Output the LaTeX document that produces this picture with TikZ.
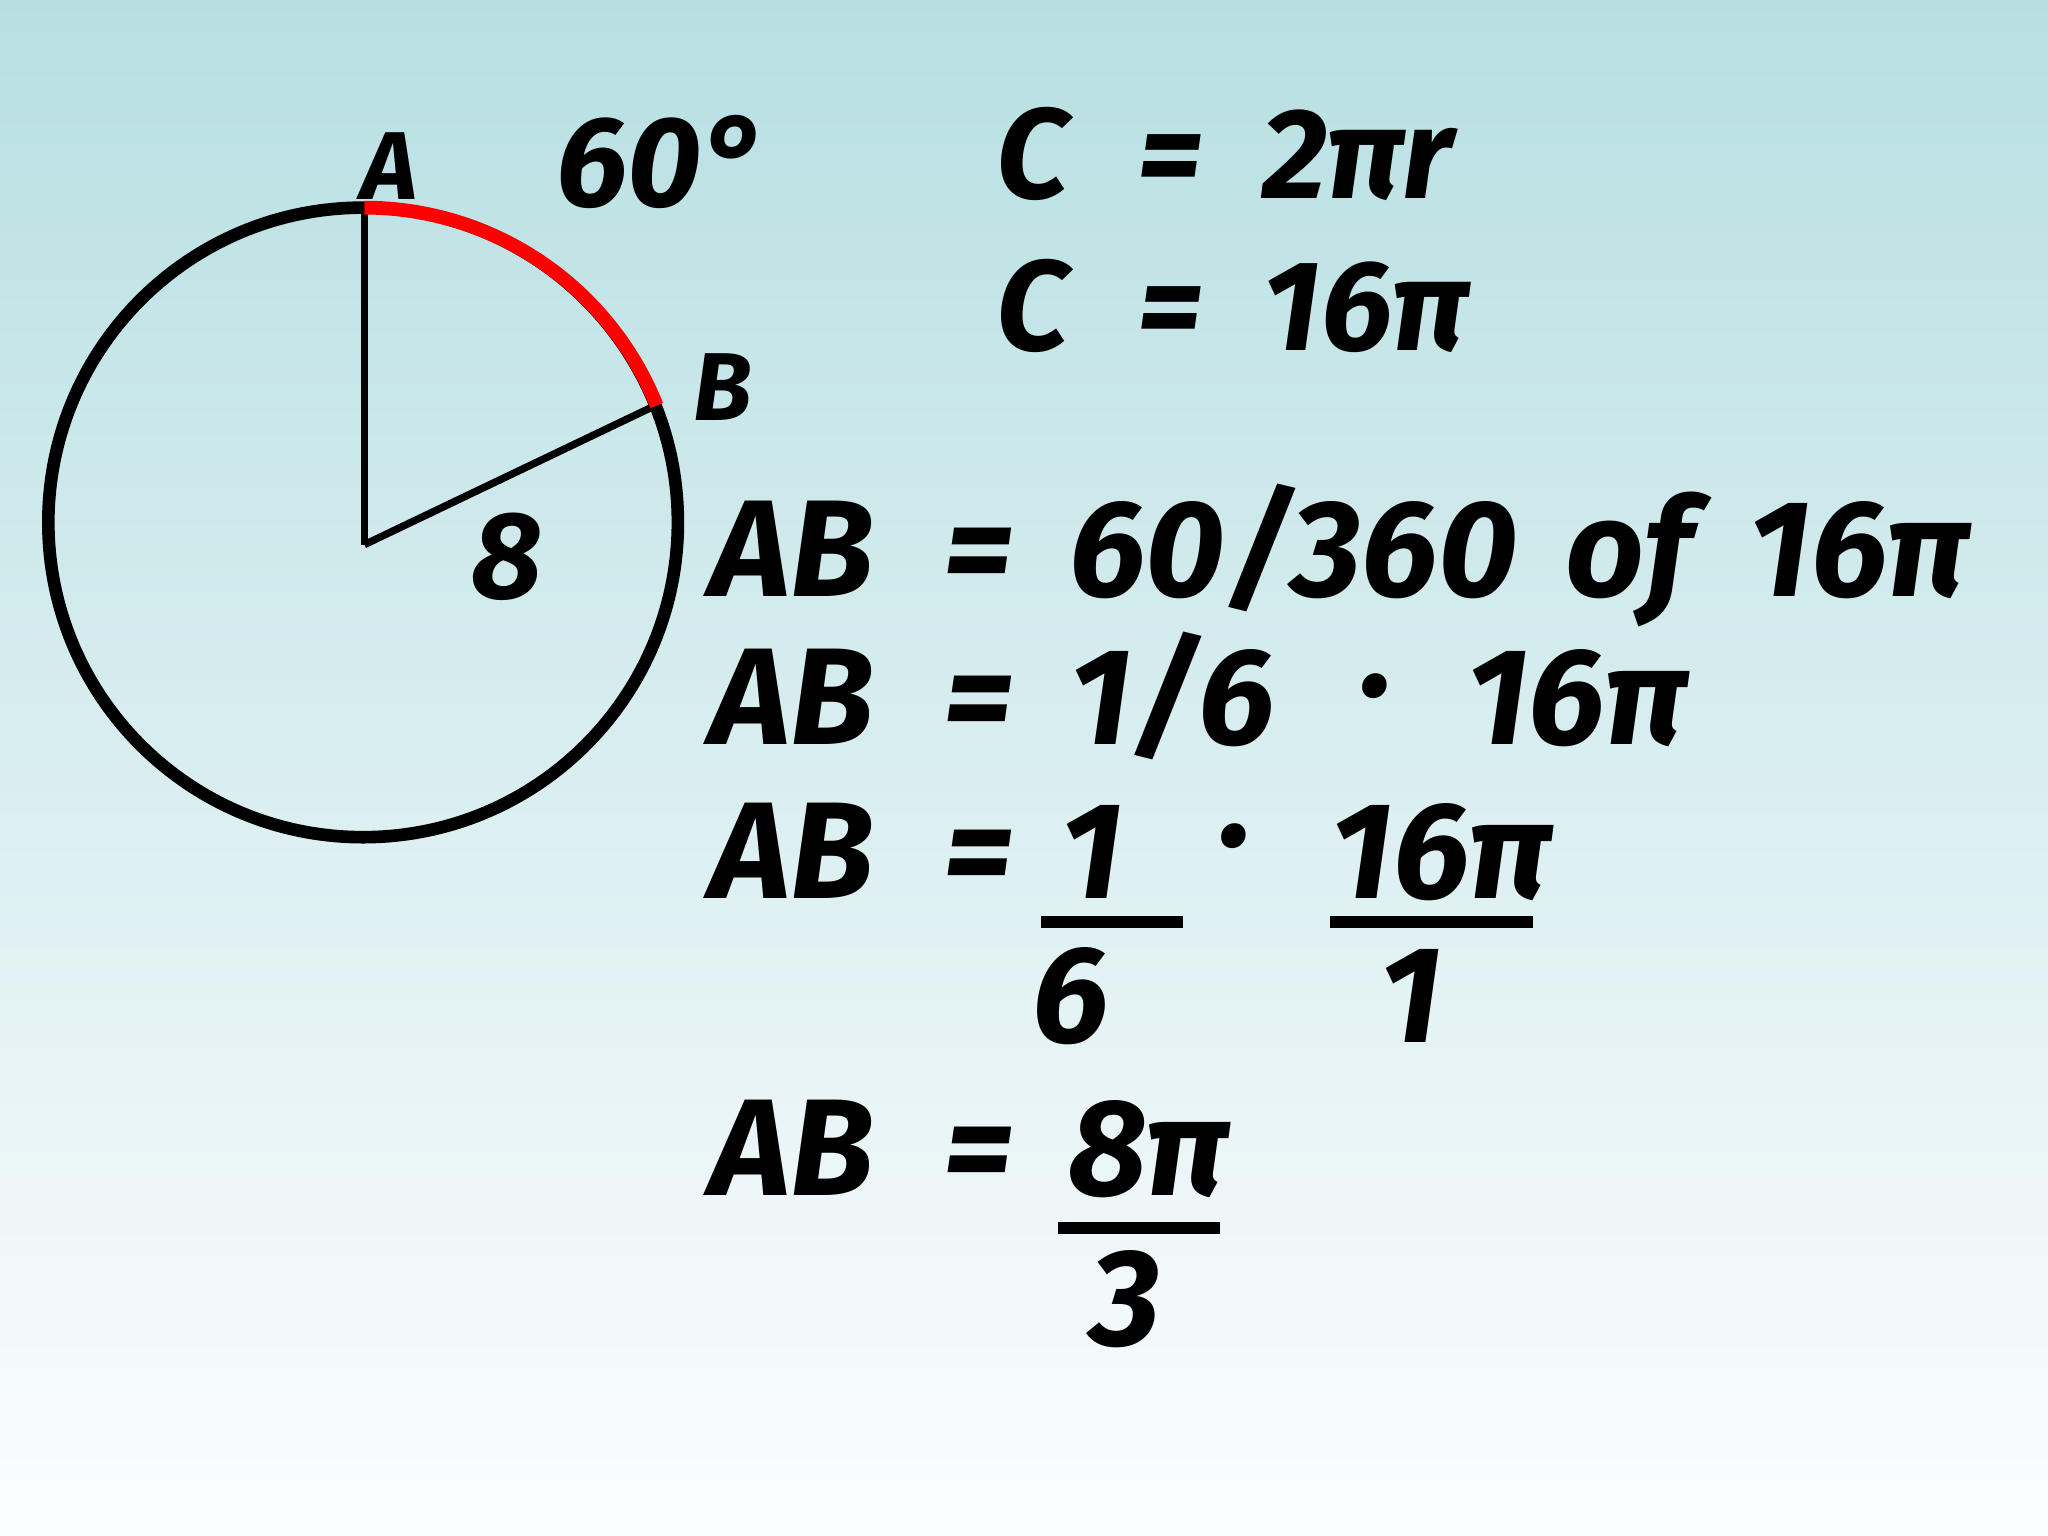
\documentclass[tikz,border=0pt]{standalone}
\usepackage{fontspec}
\setmainfont{Fira Sans}
\usetikzlibrary{calc,positioning}
\definecolor{bgtop}{RGB}{183,223,226}
\definecolor{bgmid}{RGB}{214,235,239}
\definecolor{bgbot}{RGB}{252,253,254}
\tikzset{
mytext/.style={
  inner sep=0pt,
  anchor=base west,
  font=\fontsize{30}{36}\selectfont\bfseries\itshape,
  }
}
\tikzset{
mysmall/.style={
  mytext,
  font=\fontsize{21}{25}\selectfont\bfseries\itshape,
  }
}
\tikzset{
myline/.style={
  line width=1.6pt,
  }
}
\tikzset{
mybar/.style={
  line width=2.6pt,
  }
}

\begin{document}
\begin{tikzpicture}
    \useasboundingbox (0,0) rectangle (15.68,11.76);
    \shade[top color=bgtop, middle color=bgmid, bottom color=bgbot] (0,0) rectangle (15.68,11.76);

    % circle part
    \coordinate (ctr) at (2.78,7.76);
    \coordinate (o) at (2.79,7.59);
    \coordinate (pa) at (2.79,10.17);
    \coordinate (pb) at ($(ctr)+(21.8:2.41)$);
    \draw[line width=2.75pt] (ctr) circle (2.41);
    \draw[myline] (pa) -- (o);
    \draw[myline] (o) -- (pb);
    \draw[line width=3pt, color=red] (pa) arc[start angle=90, end angle=21.8, radius=2.41];

    % circle labels
    \node[mysmall, anchor=base] (lab_a) at (2.98,10.23) {A};
    \node[mysmall] (lab_b) at (5.30,8.54) {B};
    \node[mytext, font=\fontsize{28}{34}\selectfont\bfseries\itshape] (ang) at (4.25,10.18) {60°};
    \node[mytext, font=\fontsize{27}{32}\selectfont\bfseries\itshape] (rad) at (3.60,7.18) {8};

    % circumference part
    \node[mytext, font=\fontsize{28}{34}\selectfont\bfseries\itshape] (c1_lhs) at (7.62,10.24) {C};
    \node[mytext, font=\fontsize{28}{34}\selectfont\bfseries\itshape] (c1_eq) at (8.70,10.24) {=};
    \node[mytext, font=\fontsize{28}{34}\selectfont\bfseries\itshape] (c1_rhs) at (9.66,10.24) {2πr};
    \node[mytext, font=\fontsize{28}{34}\selectfont\bfseries\itshape] (c2_lhs) at (7.62,9.08) {C};
    \node[mytext, font=\fontsize{28}{34}\selectfont\bfseries\itshape] (c2_eq) at (8.70,9.08) {=};
    \node[mytext, font=\fontsize{28}{34}\selectfont\bfseries\itshape] (c2_rhs) at (9.66,9.08) {16π};

    % arc length part
    \node[mytext] (ab1_lhs) at (5.43,7.19) {AB};
    \node[mytext] (ab1_eq) at (7.22,7.19) {=};
    \node[mytext] (ab1_frac) at (8.18,7.19) {60/360};
    \node[mytext] (ab1_of) at (11.98,7.19) {of};
    \node[mytext] (ab1_c) at (13.38,7.19) {16π};

    \node[mytext] (ab2_lhs) at (5.43,6.06) {AB};
    \node[mytext] (ab2_eq) at (7.22,6.06) {=};
    \node[mytext] (ab2_frac) at (8.18,6.06) {1/6};
    \node[mytext, anchor=center] (ab2_dot) at (10.52,6.39) {·};
    \node[mytext] (ab2_c) at (11.22,6.06) {16π};

    \node[mytext] (ab3_lhs) at (5.43,4.88) {AB};
    \node[mytext] (ab3_eq) at (7.22,4.88) {=};
    \node[mytext, anchor=base] (ab3_num1) at (8.36,4.88) {1};
    \coordinate (bar1_l) at (7.97,4.70);
    \coordinate (bar1_r) at (9.06,4.70);
    \node[mytext, anchor=base] (ab3_den1) at (8.20,3.78) {6};
    \node[mytext, anchor=center] (ab3_dot) at (9.44,5.24) {·};
    \node[mytext] (ab3_num2) at (10.18,4.88) {16π};
    \coordinate (bar2_l) at (10.18,4.70);
    \coordinate (bar2_r) at (11.74,4.70);
    \node[mytext, anchor=base] (ab3_den2) at (10.80,3.78) {1};
    \draw[mybar] (bar1_l) -- (bar1_r);
    \draw[mybar] (bar2_l) -- (bar2_r);

    \node[mytext] (ab4_lhs) at (5.43,2.61) {AB};
    \node[mytext] (ab4_eq) at (7.22,2.61) {=};
    \node[mytext] (ab4_num) at (8.17,2.61) {8π};
    \coordinate (bar3_l) at (8.10,2.36);
    \coordinate (bar3_r) at (9.34,2.36);
    \node[mytext, anchor=base] (ab4_den) at (8.62,1.46) {3};
    \draw[mybar] (bar3_l) -- (bar3_r);
\end{tikzpicture}
\end{document}
